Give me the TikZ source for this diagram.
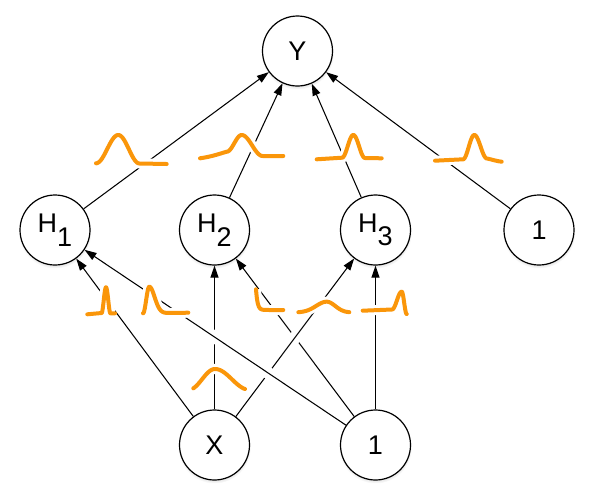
\documentclass[tikz,border=0pt]{standalone}
\usepackage{fontspec}
\setmainfont{Liberation Sans}
\usetikzlibrary{arrows.meta,shadows}
\definecolor{bumporange}{RGB}{250,150,10}
\newcommand\lowsub[1]{\raisebox{-13.5pt}{#1}}
\newcommand\netlink[2]{\draw[halo] (#1) -- (#2); \draw[conn] (#1) -- (#2);}
\begin{document}
\begin{tikzpicture}[x=1pt,y=-1pt,
  declare function={R(\t,\m,\w)=0.5+0.5*cos(180*(\t-\m)/\w);
                    G(\t,\m,\s)=exp(max(-9,0-(\t-\m)*(\t-\m)/(\s*\s)));},
  neuron/.style={circle, draw=black, line width=1.2pt, fill=white,
    minimum size=70pt, inner sep=0pt, font=\fontsize{27}{32}\selectfont,
    circular drop shadow={shadow xshift=0pt, shadow yshift=-2pt, shadow scale=1.04, opacity=0.3}},
  conn/.style={draw=black, line width=1.05pt, -{Triangle[length=12pt,width=8pt]}},
  halo/.style={draw=white, line width=12pt, shorten <=2pt, shorten >=13pt},
  bellcurve/.style={draw=bumporange, line width=4pt, line cap=round, line join=round,
    preaction={draw=white, line width=10pt}},
]
\useasboundingbox (0,0) rectangle (591,501);

% nodes
\node[neuron] (y)  at (297.5,51)  {Y};
\node[neuron] (h1) at (55,230)    {H\lowsub{1}};
\node[neuron] (h2) at (214.5,230) {H\lowsub{2}};
\node[neuron] (h3) at (375.5,230) {H\lowsub{3}};
\node[neuron] (b1) at (539,230)   {1};
\node[neuron] (x)  at (214.5,445) {X};
\node[neuron] (b0) at (375.5,445) {1};

% connectors, top layer
\netlink{h1}{y}
\netlink{h2}{y}
\netlink{h3}{y}
\netlink{b1}{y}

% connectors, bottom layer (order = stacking)
\netlink{x}{h1}
\netlink{b0}{h3}
\netlink{x}{h2}
\netlink{b0}{h2}
\netlink{x}{h3}
\netlink{b0}{h1}

% bell curves, top row
\draw[bellcurve] plot[domain=96:118.3,samples=40] (\x,{163.3-28.3*R(\x,118.3,22.3)})
  -- plot[domain=118.3:139.5,samples=40] (\x,{163.5-28.5*R(\x,118.3,21.2)}) -- (166.7,164);
\draw[bellcurve] (200,158.3) .. controls (212,156.6) and (220,153.6) .. (226.7,151.7)
  -- plot[domain=226.7:241.7,samples=40] (\x,{151.7-16.7*R(\x,241.7,15)})
  -- plot[domain=241.7:262.7,samples=40] (\x,{156-21*R(\x,241.7,21)}) -- (283.3,156);
\draw[bellcurve] (316.7,159.3) -- (342,157.7)
  -- plot[domain=342:353.3,samples=40] (\x,{157.7-22.7*R(\x,353.3,11.3)})
  -- plot[domain=353.3:365,samples=40] (\x,{158-23*R(\x,353.3,11.7)}) -- (381.7,158.3);
\draw[bellcurve] (435,160.7) -- (463,159.3)
  -- plot[domain=463:474.3,samples=40] (\x,{159.3-24.3*R(\x,474.3,11.3)})
  -- plot[domain=474.3:487,samples=40] (\x,{158.5-23.5*R(\x,474.3,12.7)})
  .. controls (492,159.5) and (497,161.3) .. (501.7,161.7);

% bell curves, bottom row
\draw[bellcurve] (87.3,314.3) -- (101.5,313)
  -- plot[domain=101.5:106,samples=30] (\x,{313-25.7*R(\x,106,4.5)})
  -- plot[domain=106:110.5,samples=30] (\x,{313.3-26*R(\x,106,4.5)}) -- (115,313.3);
\draw[bellcurve] plot[domain=143:149.3,samples=30] (\x,{313.3-26.6*R(\x,149.3,6.3)})
  -- plot[domain=149.3:170,samples=40] (\x,{313-26.3*G(\x,149.3,7.5)}) -- (188.3,312.7);
\draw[bellcurve] plot[domain=256:270,samples=50] (\x,{310-20.7*exp(0-(\x-256)/1.6)}) -- (283.3,310);
\draw[bellcurve] plot[domain=298.3:326.7,samples=40] (\x,{312.5-10.8*G(\x,326.7,15)})
  -- plot[domain=326.7:349.3,samples=40] (\x,{312.5-10.8*G(\x,326.7,12)});
\draw[bellcurve] (362.7,310.7) -- (392,309.5)
  -- plot[domain=392:401.7,samples=30] (\x,{309.5-17.8*R(\x,401.7,9.7)})
  -- plot[domain=401.7:406.7,samples=30] (\x,{314-22.3*R(\x,401.7,5)});
\draw[bellcurve] plot[domain=193.3:215,samples=40] (\x,{389.7-20.7*R(\x,215,26)})
  -- plot[domain=215:245,samples=40] (\x,{389.7-20.7*R(\x,215,34)});
\end{tikzpicture}
\end{document}
